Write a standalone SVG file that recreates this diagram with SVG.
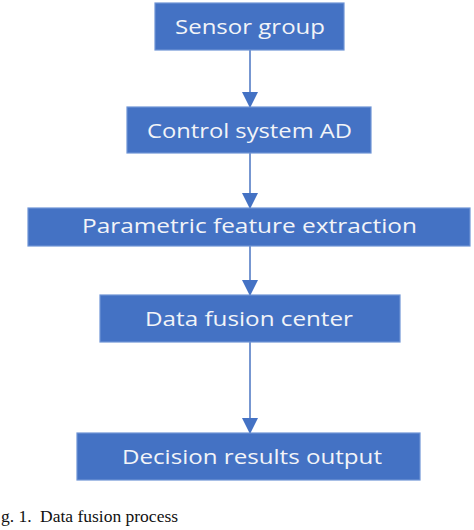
<svg xmlns="http://www.w3.org/2000/svg" width="474" height="530" viewBox="0 0 474 530">
<style>
.box{fill:#4472C4;stroke:#6E94D6;stroke-width:1.2}
.lbl{font-family:"Open Sans","Liberation Sans",sans-serif;font-size:20px;fill:#F2F4F8;text-anchor:middle}
.con{stroke:#4A74C2;stroke-width:1.5;fill:none}
.cap{font-family:"Liberation Serif","Times New Roman",serif;font-size:17.5px;fill:#111}
</style>
<defs>
<marker id="ah" markerWidth="16" markerHeight="16" viewBox="0 0 16 16" refX="15" refY="8" orient="auto" markerUnits="userSpaceOnUse">
<path d="M0,0 L16,8 L0,16 Z" fill="#4472C4"/>
</marker>
</defs>
<rect width="474" height="530" fill="#fff"/>
<g id="connectors">
<line class="con" x1="250" y1="50" x2="250" y2="107" marker-end="url(#ah)"/>
<line class="con" x1="250" y1="153" x2="250" y2="208" marker-end="url(#ah)"/>
<line class="con" x1="250" y1="246" x2="250" y2="295" marker-end="url(#ah)"/>
<line class="con" x1="250" y1="342" x2="250" y2="433" marker-end="url(#ah)"/>
</g>
<g id="n1"><rect class="box" x="155" y="3" width="189" height="47"/><text class="lbl" x="250" y="34" textLength="150" lengthAdjust="spacingAndGlyphs">Sensor group</text></g>
<g id="n2"><rect class="box" x="127" y="107" width="244" height="46"/><text class="lbl" x="249.5" y="138" textLength="205" lengthAdjust="spacingAndGlyphs">Control system AD</text></g>
<g id="n3"><rect class="box" x="28" y="208" width="442" height="38"/><text class="lbl" x="249.5" y="233" textLength="335" lengthAdjust="spacingAndGlyphs">Parametric feature extraction</text></g>
<g id="n4"><rect class="box" x="100" y="295" width="300" height="47"/><text class="lbl" x="249" y="326" textLength="208" lengthAdjust="spacingAndGlyphs">Data fusion center</text></g>
<g id="n5"><rect class="box" x="77" y="433" width="343" height="47"/><text class="lbl" x="252" y="464" textLength="260" lengthAdjust="spacingAndGlyphs">Decision results output</text></g>
<text class="cap" y="522"><tspan x="1">g. 1.</tspan><tspan x="40">Data fusion process</tspan></text>
</svg>
